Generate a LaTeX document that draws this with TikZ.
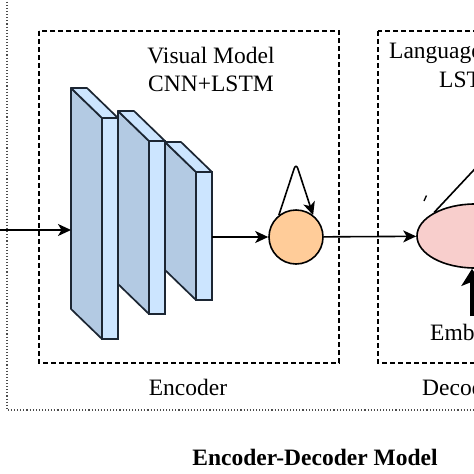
\documentclass[tikz,border=0pt]{standalone}
\usepackage{fontspec}
\setmainfont{Liberation Serif}
\usepackage{tikz}
\usetikzlibrary{arrows.meta,shapes.geometric,positioning}

\definecolor{slabside}{HTML}{B3CAE3}
\definecolor{slabfront}{HTML}{CCE5FF}
\definecolor{rnnfill}{HTML}{FFCC99}
\definecolor{decfill}{HTML}{F8CECC}
\definecolor{slabedge}{HTML}{1C2633}

% one conv slab: #1 left x, #2 top y, #3 front height
\newcommand{\convslab}[3]{
	\filldraw[slabedge, fill=slabside, line width=1.7pt, line join=round]
		(#1,#2) -- ++(31,30) -- ++(0,#3) -- (#1,#2+#3) -- cycle;
	\filldraw[slabedge, fill=slabfront, line width=1.7pt, line join=round]
		(#1,#2) -- ++(16,0) -- ++(31,30) -- ++(-16,0) -- cycle;
	\filldraw[slabedge, fill=slabfront, line width=1.7pt]
		(#1+31,#2+30) rectangle (#1+47,#2+30+#3);
}

\tikzset{
	lbl/.style={font=\fontsize{23.5}{28}\selectfont, inner sep=0pt, anchor=base},
	flow/.style={line width=1.6pt, -{Stealth[length=13pt,width=12pt,inset=3.5pt]}},
	box/.style={line width=1.5pt, dash pattern=on 5pt off 3pt},
}

\begin{document}
\begin{tikzpicture}[x=1pt,y=-1pt]
	\useasboundingbox (0,0) rectangle (474,474);
	\clip (0,0) rectangle (474,474);

	% frames
	\draw[gray!60!black, line width=1.1pt, dotted] (7,-20) rectangle (520,410);
	\draw[box] (39,31) rectangle (339,363);
	\draw[box] (378,31) rectangle (700,363);

	% encoder
	\node[lbl] (vistitle) at (211,63) {Visual Model};
	\node[lbl] (vissub) at (211,91) {CNN+LSTM};
	\convslab{71}{88}{221}
	\convslab{118}{111}{173}
	\convslab{165}{142}{128}
	\coordinate (imgin) at (-5,230);
	\coordinate (slabin) at (71,230);
	\coordinate (slabout) at (212,237);

	\node[circle, draw, line width=1.6pt, fill=rnnfill, minimum size=54pt, inner sep=0pt] (rnn) at (296,237) {};
	\draw[flow, rounded corners=6pt] (rnn.128) -- (296,163) -- (rnn.52);

	% decoder
	\node[lbl, anchor=base west] (langtitle) at (389,58) {Language Model};
	\node[lbl, anchor=base west] (langsub) at (439,87) {LSTM};
	\node[ellipse, draw, line width=1.6pt, fill=decfill, minimum width=116pt, minimum height=64pt, inner sep=0pt] (dec) at (475,236) {};
	\coordinate (decout) at (486,157);
	\draw[line width=1.6pt] (dec.150) -- (decout);
	\draw[line width=1.3pt] (424,201) -- (426.5,195.5);
	\node[lbl, anchor=base west] (embtxt) at (430,340) {Embedding};
	\coordinate (embin) at (472,316);
	\draw[line width=3.8pt, -{Stealth[length=17pt,width=21pt,inset=4pt]}] (embin) -- (embin |- dec.south);

	% connectors
	\draw[flow] (imgin) -- (slabin);
	\draw[flow] (slabout) -- (rnn);
	\draw[flow] (rnn) -- (dec);

	% captions
	\node[lbl] (enccap) at (188,395) {Encoder};
	\node[lbl, anchor=base west] (deccap) at (422,395) {Decoder};
	\node[lbl, font=\fontsize{23.5}{28}\selectfont\bfseries] (title) at (315,465) {Encoder-Decoder Model};
\end{tikzpicture}
\end{document}
